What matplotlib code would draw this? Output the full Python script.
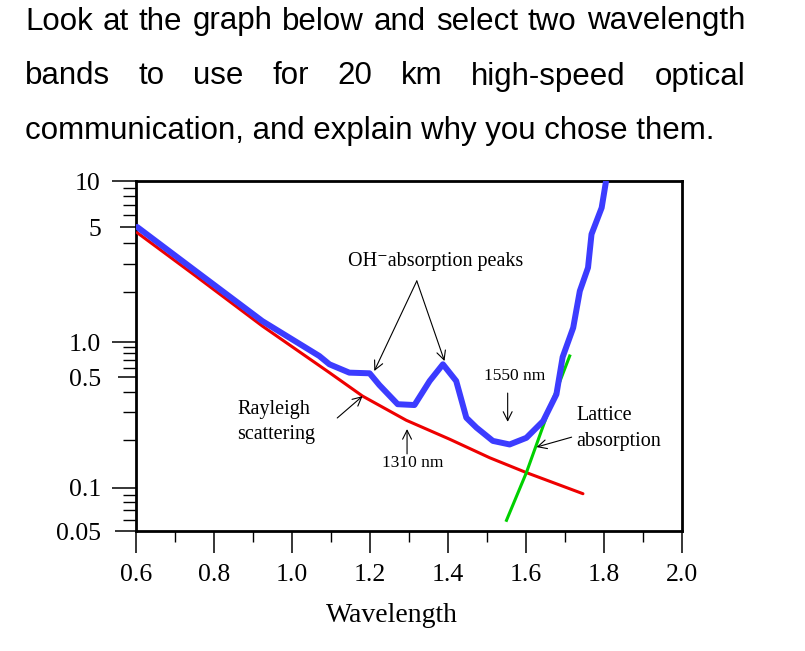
import numpy as np
import matplotlib
matplotlib.use('Agg')
import matplotlib.pyplot as plt
from matplotlib.ticker import FixedLocator, FixedFormatter, NullFormatter

# QUESTION TEXT
q_lines = ["Look at the graph below and select two wavelength",
           "bands to use for 20 km high-speed optical",
           "communication, and explain why you chose them."]
q_justify = [True, True, False]

# AXIS TICKS
x_major = [0.6, 0.8, 1.0, 1.2, 1.4, 1.6, 1.8, 2.0]
x_labels = ['0.6', '0.8', '1.0', '1.2', '1.4', '1.6', '1.8', '2.0']
x_minor = [0.7, 0.9, 1.1, 1.3, 1.5, 1.7, 1.9]
y_major = [0.05, 0.1, 0.5, 1.0, 5, 10]
y_labels = ['0.05', '0.1', '0.5', '1.0', '5', '10']
y_minor = [0.06, 0.07, 0.08, 0.09, 0.2, 0.3, 0.4, 0.6, 0.7, 0.8, 0.9,
           2, 3, 4, 6, 7, 8, 9]

# Rayleigh scattering (red)
ray_x = [0.603, 0.753, 0.924, 1.096, 1.181, 1.293, 1.404, 1.507, 1.601, 1.746]
ray_y = [4.62, 2.52, 1.25, 0.545, 0.379, 0.267, 0.203, 0.155, 0.125, 0.0912]

# Total attenuation (blue)
loss_x = [0.603, 0.753, 0.924, 1.070, 1.096, 1.147, 1.199, 1.224, 1.271,
          1.314, 1.353, 1.387, 1.421, 1.447, 1.473, 1.515, 1.558, 1.601,
          1.644, 1.678, 1.694, 1.721, 1.738, 1.759, 1.768, 1.794, 1.805]
loss_y = [5.0, 2.70, 1.34, 0.758, 0.643, 0.545, 0.538, 0.445, 0.337,
          0.333, 0.472, 0.643, 0.472, 0.277, 0.240, 0.198, 0.188, 0.207,
          0.264, 0.389, 0.743, 1.22, 2.04, 2.83, 4.52, 6.68, 9.9]

# Lattice absorption (green)
lat_x = [1.550, 1.601, 1.661, 1.712]
lat_y = [0.0594, 0.125, 0.321, 0.758]

# The printed axis is not a clean log scale: tick rows were read off the picture
y_anchor_log = np.log10(y_major)
y_anchor_pos = np.array([0, 43, 154, 189, 304, 350]) / 350.0


def _pw(x, xp, fp):
    x = np.asarray(x, dtype=float)
    y = np.interp(x, xp, fp)
    y = np.where(x < xp[0], fp[0] + (x - xp[0]) * (fp[1] - fp[0]) / (xp[1] - xp[0]), y)
    y = np.where(x > xp[-1], fp[-1] + (x - xp[-1]) * (fp[-1] - fp[-2]) / (xp[-1] - xp[-2]), y)
    return y


def fwd(v):
    v = np.clip(np.asarray(v, dtype=float), 1e-12, None)
    return _pw(np.log10(v), y_anchor_log, y_anchor_pos)


def inv(u):
    return 10 ** _pw(u, y_anchor_pos, y_anchor_log)


W, H = 805, 651
fig = plt.figure(figsize=(W / 100, H / 100), dpi=100)

# QUESTION TEXT (justified like the original)
qfont = dict(family='Liberation Sans', fontsize=22.5, color='black', va='baseline')
renderer = fig.canvas.get_renderer()
x_left, x_right = 25, 745
for i, (line, just) in enumerate(zip(q_lines, q_justify)):
    yb = 1 - (29.5 + 55 * i) / H
    if not just:
        fig.text(x_left / W, yb, line, **qfont)
        continue
    words = line.split()
    texts = [fig.text(0, yb, w, **qfont) for w in words]
    widths = [t.get_window_extent(renderer).width for t in texts]
    gap = (x_right - x_left - sum(widths)) / (len(words) - 1)
    xp = x_left
    for t, w in zip(texts, widths):
        t.set_x(xp / W)
        xp += w + gap

# PLOT
ax = fig.add_axes([136 / W, 1 - 531 / H, 546 / W, 350 / H])
ax.set_yscale('function', functions=(fwd, inv))

ax.plot(ray_x, ray_y, color='#ee0000', lw=2.2, solid_capstyle='round', zorder=3)
ax.plot(lat_x, lat_y, color='#00d000', lw=2.2, zorder=3)
ax.plot(loss_x, loss_y, color='#3c3cff', lw=4.3, solid_capstyle='round',
        solid_joinstyle='round', zorder=4)

ax.set_xlim(0.6, 2.0)
ax.set_ylim(0.05, 10)

serif = ['Liberation Serif', 'DejaVu Serif']

ax.xaxis.set_major_locator(FixedLocator(x_major))
ax.xaxis.set_major_formatter(FixedFormatter(x_labels))
ax.xaxis.set_minor_locator(FixedLocator(x_minor))
ax.xaxis.set_minor_formatter(NullFormatter())
ax.yaxis.set_major_locator(FixedLocator(y_major))
ax.yaxis.set_major_formatter(FixedFormatter(y_labels))
ax.yaxis.set_minor_locator(FixedLocator(y_minor))
ax.yaxis.set_minor_formatter(NullFormatter())

ax.tick_params(axis='x', which='major', length=15.8, width=1.1, pad=8,
               labelsize=18.5, direction='out')
ax.tick_params(axis='x', which='minor', length=8, width=1.0, direction='out')
ax.tick_params(axis='y', which='major', length=17.3, width=1.1, pad=8,
               labelsize=18.5, direction='out')
ax.tick_params(axis='y', which='minor', length=9.4, width=1.0, direction='out')
for lab in ax.get_xticklabels() + ax.get_yticklabels():
    lab.set_family(serif)

# shorter ticks at 0.05, 0.5 and 5
short_len = {0: 15, 2: 13, 4: 11.5}
for i, tk in enumerate(ax.yaxis.get_major_ticks()):
    if i in short_len:
        tk.tick1line.set_markersize(short_len[i])

for sp in ax.spines.values():
    sp.set_linewidth(2.0)
    sp.set_color('black')

ax.set_xlabel('Wavelength', fontsize=20, family=serif)
ax.xaxis.set_label_coords(0.468, -0.205)
ax.xaxis.label.set_va('top')

# ANNOTATIONS
afont = dict(fontsize=14.5, family=serif, color='black')
nfont = dict(fontsize=12.5, family=serif, color='black')
arrow = dict(arrowstyle='->', lw=0.8, color='black', shrinkA=0, shrinkB=0,
             mutation_scale=16)

ax.text(1.368, 3.10, 'OH\u207babsorption peaks', ha='center', va='center', **afont)
ax.annotate('', xy=(1.211, 0.563), xytext=(1.320, 2.35), arrowprops=arrow)
ax.annotate('', xy=(1.391, 0.686), xytext=(1.320, 2.35), arrowprops=arrow)

ax.text(1.571, 0.51, '1550 nm', ha='center', va='center', **nfont)
ax.annotate('', xy=(1.553, 0.261), xytext=(1.553, 0.396), arrowprops=arrow)

ax.text(0.859, 0.261, 'Rayleigh\nscattering', ha='left', va='center',
        linespacing=1.45, **afont)
ax.annotate('', xy=(1.181, 0.379), xytext=(1.116, 0.276), arrowprops=arrow)

ax.text(1.309, 0.1437, '1310 nm', ha='center', va='center', **nfont)
ax.annotate('', xy=(1.295, 0.235), xytext=(1.295, 0.164), arrowprops=arrow)

ax.text(1.730, 0.237, 'Lattice\nabsorption', ha='left', va='center',
        linespacing=1.45, **afont)
ax.annotate('', xy=(1.627, 0.181), xytext=(1.717, 0.209), arrowprops=arrow)

fig.savefig('out.png', dpi=100)
